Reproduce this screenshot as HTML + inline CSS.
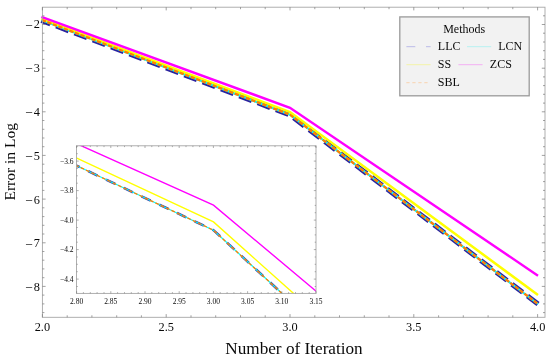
<!DOCTYPE html>
<html><head><meta charset="utf-8"><title>Error in Log vs Number of Iteration</title>
<style>html,body{margin:0;padding:0;background:#fff;}svg{display:block}text{font-family:"Liberation Serif","Times New Roman",serif;fill:#0a0a0a}</style></head><body>
<svg width="550" height="362" viewBox="0 0 550 362">
<rect width="550" height="362" fill="#fff"/>
<g fill="none" stroke-linejoin="miter" stroke-linecap="butt">
<polyline points="41.4,20.4 290.0,115.1 538.0,304.0" stroke="#2a22a0" stroke-width="5" stroke-dasharray="13.4 6.2" stroke-dashoffset="3.8"/>
<polyline points="41.4,19.9 290.0,114.7 538.0,304.0" stroke="#00ffff" stroke-width="2.2"/>
<polyline points="41.4,18.7 290.0,112.0 538.0,295.0" stroke="#ffff00" stroke-width="2.5"/>
<polyline points="41.4,16.8 290.0,107.8 538.0,275.7" stroke="#ff00ff" stroke-width="2.4"/>
<polyline points="41.4,19.9 290.0,114.7 538.0,304.0" stroke="#ff7f00" stroke-width="2.3" stroke-dasharray="4.4 1.5" stroke-dashoffset="-0.4"/>
</g>
<rect x="42.4" y="7.2" width="502.6" height="310.1" fill="none" stroke="#a6a6a6" stroke-width="0.9"/>
<path d="M42.4 317.3v-3.2M42.4 7.2v3.2M67.2 317.3v-2.0M67.2 7.2v2.0M91.9 317.3v-2.0M91.9 7.2v2.0M116.7 317.3v-2.0M116.7 7.2v2.0M141.4 317.3v-2.0M141.4 7.2v2.0M166.2 317.3v-3.2M166.2 7.2v3.2M191.0 317.3v-2.0M191.0 7.2v2.0M215.7 317.3v-2.0M215.7 7.2v2.0M240.5 317.3v-2.0M240.5 7.2v2.0M265.2 317.3v-2.0M265.2 7.2v2.0M290.0 317.3v-3.2M290.0 7.2v3.2M314.8 317.3v-2.0M314.8 7.2v2.0M339.5 317.3v-2.0M339.5 7.2v2.0M364.3 317.3v-2.0M364.3 7.2v2.0M389.0 317.3v-2.0M389.0 7.2v2.0M413.8 317.3v-3.2M413.8 7.2v3.2M438.6 317.3v-2.0M438.6 7.2v2.0M463.3 317.3v-2.0M463.3 7.2v2.0M488.1 317.3v-2.0M488.1 7.2v2.0M512.8 317.3v-2.0M512.8 7.2v2.0M537.6 317.3v-3.2M537.6 7.2v3.2M42.4 15.8h2.0M545.0 15.8h-2.0M42.4 24.5h3.2M545.0 24.5h-3.2M42.4 33.2h2.0M545.0 33.2h-2.0M42.4 42.0h2.0M545.0 42.0h-2.0M42.4 50.7h2.0M545.0 50.7h-2.0M42.4 59.4h2.0M545.0 59.4h-2.0M42.4 68.2h3.2M545.0 68.2h-3.2M42.4 76.9h2.0M545.0 76.9h-2.0M42.4 85.6h2.0M545.0 85.6h-2.0M42.4 94.3h2.0M545.0 94.3h-2.0M42.4 103.1h2.0M545.0 103.1h-2.0M42.4 111.8h3.2M545.0 111.8h-3.2M42.4 120.5h2.0M545.0 120.5h-2.0M42.4 129.3h2.0M545.0 129.3h-2.0M42.4 138.0h2.0M545.0 138.0h-2.0M42.4 146.7h2.0M545.0 146.7h-2.0M42.4 155.4h3.2M545.0 155.4h-3.2M42.4 164.2h2.0M545.0 164.2h-2.0M42.4 172.9h2.0M545.0 172.9h-2.0M42.4 181.6h2.0M545.0 181.6h-2.0M42.4 190.4h2.0M545.0 190.4h-2.0M42.4 199.1h3.2M545.0 199.1h-3.2M42.4 207.8h2.0M545.0 207.8h-2.0M42.4 216.6h2.0M545.0 216.6h-2.0M42.4 225.3h2.0M545.0 225.3h-2.0M42.4 234.0h2.0M545.0 234.0h-2.0M42.4 242.8h3.2M545.0 242.8h-3.2M42.4 251.5h2.0M545.0 251.5h-2.0M42.4 260.2h2.0M545.0 260.2h-2.0M42.4 268.9h2.0M545.0 268.9h-2.0M42.4 277.7h2.0M545.0 277.7h-2.0M42.4 286.4h3.2M545.0 286.4h-3.2M42.4 295.1h2.0M545.0 295.1h-2.0M42.4 303.9h2.0M545.0 303.9h-2.0M42.4 312.6h2.0M545.0 312.6h-2.0" stroke="#7a7a7a" stroke-width="0.7" fill="none"/>
<text x="42.4" y="330.8" font-size="12.3" text-anchor="middle">2.0</text>
<text x="166.2" y="330.8" font-size="12.3" text-anchor="middle">2.5</text>
<text x="290.0" y="330.8" font-size="12.3" text-anchor="middle">3.0</text>
<text x="413.8" y="330.8" font-size="12.3" text-anchor="middle">3.5</text>
<text x="537.6" y="330.8" font-size="12.3" text-anchor="middle">4.0</text>
<text x="25.2" y="29.6" font-size="13.4">−</text><text x="40.0" y="28.3" font-size="12.3" text-anchor="end">2</text>
<text x="25.2" y="73.4" font-size="13.4">−</text><text x="40.0" y="72.1" font-size="12.3" text-anchor="end">3</text>
<text x="25.2" y="117.2" font-size="13.4">−</text><text x="40.0" y="115.9" font-size="12.3" text-anchor="end">4</text>
<text x="25.2" y="161.0" font-size="13.4">−</text><text x="40.0" y="159.7" font-size="12.3" text-anchor="end">5</text>
<text x="25.2" y="204.8" font-size="13.4">−</text><text x="40.0" y="203.5" font-size="12.3" text-anchor="end">6</text>
<text x="25.2" y="248.6" font-size="13.4">−</text><text x="40.0" y="247.3" font-size="12.3" text-anchor="end">7</text>
<text x="25.2" y="292.4" font-size="13.4">−</text><text x="40.0" y="291.1" font-size="12.3" text-anchor="end">8</text>
<text x="294" y="354.2" font-size="17.2" text-anchor="middle">Number of Iteration</text>
<text transform="translate(15.3,161.8) rotate(-90)" font-size="15.5" text-anchor="middle">Error in Log</text>
<rect x="76.5" y="145.8" width="239.5" height="147.59999999999997" fill="#fff" stroke="none"/>
<clipPath id="ic"><rect x="76.5" y="145.8" width="239.5" height="147.59999999999997"/></clipPath>
<g fill="none" clip-path="url(#ic)" stroke-linecap="butt">
<polyline points="70.0,162.6 213.5,230.2 290.0,300.8" stroke="#4040a8" stroke-width="2.5" stroke-dasharray="10.2 9.4" stroke-dashoffset="-0.6"/>
<polyline points="70.0,162.6 213.5,230.2 290.0,300.8" stroke="#00ffff" stroke-width="1.2"/>
<polyline points="70.0,155.0 213.5,221.9 300.0,299.2" stroke="#ffff00" stroke-width="1.4"/>
<polyline points="72.0,141.6 213.5,205.2 320.0,294.4" stroke="#ff00ff" stroke-width="1.4"/>
<polyline points="70.0,162.6 213.5,230.2 290.0,300.8" stroke="#ff7f00" stroke-width="1.3" stroke-dasharray="3.7 2.2"/>
</g>
<rect x="76.5" y="145.8" width="239.5" height="147.59999999999997" fill="none" stroke="#a6a6a6" stroke-width="0.9"/>
<path d="M76.6 293.4v-2.2M76.6 145.8v2.2M83.4 293.4v-1.3M83.4 145.8v1.3M90.3 293.4v-1.3M90.3 145.8v1.3M97.1 293.4v-1.3M97.1 145.8v1.3M104.0 293.4v-1.3M104.0 145.8v1.3M110.8 293.4v-2.2M110.8 145.8v2.2M117.6 293.4v-1.3M117.6 145.8v1.3M124.5 293.4v-1.3M124.5 145.8v1.3M131.3 293.4v-1.3M131.3 145.8v1.3M138.2 293.4v-1.3M138.2 145.8v1.3M145.0 293.4v-2.2M145.0 145.8v2.2M151.8 293.4v-1.3M151.8 145.8v1.3M158.7 293.4v-1.3M158.7 145.8v1.3M165.5 293.4v-1.3M165.5 145.8v1.3M172.4 293.4v-1.3M172.4 145.8v1.3M179.2 293.4v-2.2M179.2 145.8v2.2M186.0 293.4v-1.3M186.0 145.8v1.3M192.9 293.4v-1.3M192.9 145.8v1.3M199.7 293.4v-1.3M199.7 145.8v1.3M206.6 293.4v-1.3M206.6 145.8v1.3M213.4 293.4v-2.2M213.4 145.8v2.2M220.2 293.4v-1.3M220.2 145.8v1.3M227.1 293.4v-1.3M227.1 145.8v1.3M233.9 293.4v-1.3M233.9 145.8v1.3M240.8 293.4v-1.3M240.8 145.8v1.3M247.6 293.4v-2.2M247.6 145.8v2.2M254.4 293.4v-1.3M254.4 145.8v1.3M261.3 293.4v-1.3M261.3 145.8v1.3M268.1 293.4v-1.3M268.1 145.8v1.3M275.0 293.4v-1.3M275.0 145.8v1.3M281.8 293.4v-2.2M281.8 145.8v2.2M288.6 293.4v-1.3M288.6 145.8v1.3M295.5 293.4v-1.3M295.5 145.8v1.3M302.3 293.4v-1.3M302.3 145.8v1.3M309.2 293.4v-1.3M309.2 145.8v1.3M316.0 293.4v-2.2M316.0 145.8v2.2M76.5 146.3h1.3M316.0 146.3h-1.3M76.5 153.7h1.3M316.0 153.7h-1.3M76.5 161.1h2.2M316.0 161.1h-2.2M76.5 168.5h1.3M316.0 168.5h-1.3M76.5 175.8h1.3M316.0 175.8h-1.3M76.5 183.2h1.3M316.0 183.2h-1.3M76.5 190.6h2.2M316.0 190.6h-2.2M76.5 198.0h1.3M316.0 198.0h-1.3M76.5 205.4h1.3M316.0 205.4h-1.3M76.5 212.7h1.3M316.0 212.7h-1.3M76.5 220.1h2.2M316.0 220.1h-2.2M76.5 227.5h1.3M316.0 227.5h-1.3M76.5 234.9h1.3M316.0 234.9h-1.3M76.5 242.2h1.3M316.0 242.2h-1.3M76.5 249.6h2.2M316.0 249.6h-2.2M76.5 257.0h1.3M316.0 257.0h-1.3M76.5 264.3h1.3M316.0 264.3h-1.3M76.5 271.7h1.3M316.0 271.7h-1.3M76.5 279.1h2.2M316.0 279.1h-2.2M76.5 286.5h1.3M316.0 286.5h-1.3" stroke="#7a7a7a" stroke-width="0.6" fill="none"/>
<text x="76.6" y="304.2" font-size="7.5" text-anchor="middle">2.80</text>
<text x="110.8" y="304.2" font-size="7.5" text-anchor="middle">2.85</text>
<text x="145.0" y="304.2" font-size="7.5" text-anchor="middle">2.90</text>
<text x="179.2" y="304.2" font-size="7.5" text-anchor="middle">2.95</text>
<text x="213.4" y="304.2" font-size="7.5" text-anchor="middle">3.00</text>
<text x="247.6" y="304.2" font-size="7.5" text-anchor="middle">3.05</text>
<text x="281.8" y="304.2" font-size="7.5" text-anchor="middle">3.10</text>
<text x="316.0" y="304.2" font-size="7.5" text-anchor="middle">3.15</text>
<text x="73.6" y="163.6" font-size="7.5" text-anchor="end">−3.6</text>
<text x="73.6" y="193.1" font-size="7.5" text-anchor="end">−3.8</text>
<text x="73.6" y="222.6" font-size="7.5" text-anchor="end">−4.0</text>
<text x="73.6" y="252.1" font-size="7.5" text-anchor="end">−4.2</text>
<text x="73.6" y="281.6" font-size="7.5" text-anchor="end">−4.4</text>
<rect x="399.8" y="16.9" width="129.4" height="78.9" fill="#f2f2f2" stroke="#9a9a9a" stroke-width="1.3"/>
<text x="464.2" y="32.7" font-size="12" text-anchor="middle">Methods</text>
<g fill="none" stroke-width="0.9">
<path d="M406.4 46.7h8.9M426 46.7h4.6" stroke="#b4b4e6"/>
<path d="M467 46.7h24.2" stroke="#b0f0f0"/>
<path d="M406.4 64.7h24.2" stroke="#f4f4a0"/>
<path d="M458.4 64.7h24.2" stroke="#f4a8f4"/>
<path d="M406.3 82.7h21.3" stroke="#f8d0a8" stroke-dasharray="3.3 2.7"/>
</g>
<text x="437.8" y="50.4" font-size="12">LLC</text>
<text x="498.2" y="50.4" font-size="12">LCN</text>
<text x="437.8" y="67.9" font-size="12">SS</text>
<text x="489.8" y="67.9" font-size="12">ZCS</text>
<text x="437.8" y="85.9" font-size="12">SBL</text>
</svg></body></html>
